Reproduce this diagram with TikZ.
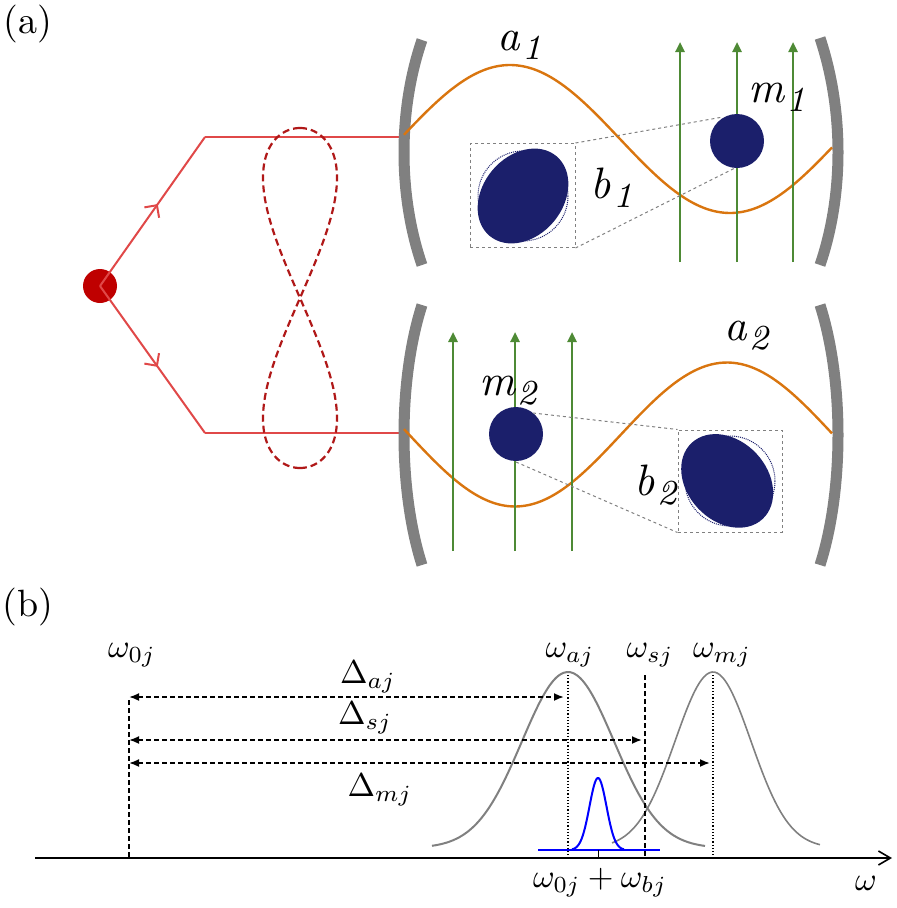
\documentclass[tikz,border=0pt]{standalone}
\usetikzlibrary{arrows.meta,decorations.markings}
\definecolor{navy}{HTML}{1B1F6B}
\definecolor{cavred}{HTML}{E04848}
\definecolor{dred}{HTML}{B01818}
\definecolor{orng}{HTML}{D9750F}
\definecolor{grn}{HTML}{4E8A35}
\definecolor{mir}{HTML}{808080}
\begin{document}
\begin{tikzpicture}[x=1pt,y=-1pt,
  mirror/.style={mir,line width=11pt},
  wave/.style={orng,line width=2.4pt},
  field/.style={grn,line width=2.4pt,-{Triangle[length=10pt,width=9pt]}},
  beam/.style={cavred,line width=2pt},
  zoomline/.style={gray,dashed,line width=1pt},
  lbl/.style={scale=3.8,transform shape},
  ilbl/.style={scale=4.4,transform shape,font=\itshape},
  mlbl/.style={scale=3.3,transform shape},
  vdash/.style={line width=1.2pt,dash pattern=on 5pt off 3pt},
  darr/.style={line width=1.8pt,dash pattern=on 5pt off 3pt,{Latex[length=10pt,width=8pt]}-{Latex[length=10pt,width=8pt]}},
  gauss/.style={gray,line width=2pt}]
\useasboundingbox (0,0) rectangle (897,908);
\node[lbl] (la) at (28,24) {(a)};
\node[lbl] (lb) at (28,607) {(b)};
% source and beams
\fill[red!75!black] (100,286) circle (17);
\coordinate (src) at (100,286);
\coordinate (t1) at (205,137); \coordinate (t2) at (400,137);
\coordinate (u1) at (205,433); \coordinate (u2) at (400,433);
\draw[beam,postaction={decorate},decoration={markings,mark=at position 0.55 with {\arrow{Straight Barb[length=9pt]}}}] (src) -- (t1);
\draw[beam] (t1) -- (t2);
\draw[beam,postaction={decorate},decoration={markings,mark=at position 0.55 with {\arrow{Straight Barb[length=9pt]}}}] (src) -- (u1);
\draw[beam] (u1) -- (u2);
\draw[dred,line width=2.2pt,dash pattern=on 7pt off 4pt] plot[domain=0:180,samples=100,smooth] ({300+37*sin(2*\x)},{298-170*cos(\x)});
\draw[dred,line width=2.2pt,dash pattern=on 7pt off 4pt] plot[domain=0:180,samples=100,smooth] ({300-37*sin(2*\x)},{298-170*cos(\x)});
% top cavity
\draw[mirror] (422,40) .. controls (398,110) and (398,195) .. (422,265);
\draw[mirror] (820,38) .. controls (844,110) and (844,195) .. (820,265);
\draw[wave] plot[domain=404:832,samples=100,smooth] (\x,{139-74*cos(0.81818*(\x-510))});
\foreach \xx in {680,737,793} \draw[field] (\xx,262) -- (\xx,42);
\node[circle,fill=navy,minimum size=54pt,inner sep=0pt] (m1) at (737,141) {};
\node[draw=gray,dashed,line width=1pt,minimum width=105pt,minimum height=104pt] (bx1) at (522.5,195.5) {};
\draw[navy,densely dotted,line width=1pt] (523,196) circle (45);
\fill[navy,rotate around={50:(523,196)}] (523,196) ellipse (52 and 40);
\draw[zoomline] (bx1.north east) -- (723,117);
\draw[zoomline] (bx1.south east) -- (735,168);
\node[ilbl] (a1) at (520,45) {a\kern0.6pt\raisebox{-2pt}{\footnotesize 1}};
\node[ilbl] (m1l) at (777,97) {m\kern0.6pt\raisebox{-2pt}{\footnotesize 1}};
\node[ilbl] (b1l) at (612,188) {b\kern0.6pt\raisebox{-2pt}{\footnotesize 1}};
% bottom cavity
\draw[mirror] (422,305) .. controls (398,380) and (398,490) .. (422,565);
\draw[mirror] (820,305) .. controls (844,380) and (844,490) .. (820,565);
\draw[wave] plot[domain=404:832,samples=100,smooth] (\x,{434.5+72*cos(0.84906*(\x-515))});
\foreach \xx in {453,515,572} \draw[field] (\xx,551) -- (\xx,332);
\node[circle,fill=navy,minimum size=54pt,inner sep=0pt] (m2) at (516,434) {};
\node[draw=gray,dashed,line width=1pt,minimum width=104pt,minimum height=102pt] (bx2) at (730,481) {};
\draw[navy,densely dotted,line width=1pt] (730,481) circle (45);
\fill[navy,rotate around={-47:(730,481)}] (728,483) ellipse (52 and 40);
\draw[zoomline] (533,413) -- (bx2.north west);
\draw[zoomline] (516,462) -- (bx2.south west);
\node[ilbl] (a2) at (747,336) {a\kern0.6pt\raisebox{-2pt}{\footnotesize 2}};
\node[ilbl] (m2l) at (508,391) {m\kern0.6pt\raisebox{-2pt}{\footnotesize 2}};
\node[ilbl] (b2l) at (656,485) {b\kern0.6pt\raisebox{-2pt}{\footnotesize 2}};
% part b
\coordinate (ax0) at (35,858); \coordinate (ax1) at (892,858);
\draw[line width=1.6pt,-{Straight Barb[length=12pt,width=14pt]}] (ax0) -- (ax1);
\draw[gauss] plot[domain=432:705,samples=80,smooth] (\x,{848-176*exp(-((\x-568)/46)^2/2)});
\draw[gauss,line width=1.6pt] plot[domain=612:820,samples=80,smooth] (\x,{848-176*exp(-((\x-713)/38)^2/2)});
\draw[blue,line width=2pt] (538,850) -- (660,850);
\draw[blue,line width=2pt] plot[domain=572:624,samples=60,smooth] (\x,{850-72*exp(-((\x-598)/8.5)^2/2)});
\draw[line width=1pt] (598,850) -- (598,858);
\draw[vdash] (129,700) -- (129,858);
\draw[vdash] (645,675) -- (645,858);
\draw[dotted,line width=1.2pt] (568,675) -- (568,858);
\draw[dotted,line width=1.2pt] (713,675) -- (713,858);
\draw[darr] (129,697) -- (564,697);
\draw[darr] (129,740) -- (642,740);
\draw[darr] (129,763) -- (710,763);
\node[mlbl] (w0) at (132,655) {$\omega_{0j}$};
\node[mlbl] (wa) at (570,655) {$\omega_{aj}$};
\node[mlbl] (ws) at (650,655) {$\omega_{sj}$};
\node[mlbl] (wm) at (722,655) {$\omega_{mj}$};
\node[mlbl] (da) at (368,677) {$\Delta_{aj}$};
\node[mlbl] (ds) at (365,718) {$\Delta_{sj}$};
\node[mlbl] (dm) at (380,790) {$\Delta_{mj}$};
\node[mlbl] (wb) at (600,883) {$\omega_{0j}+\omega_{bj}$};
\node[mlbl] (w) at (866,883) {$\omega$};
\end{tikzpicture}
\end{document}
